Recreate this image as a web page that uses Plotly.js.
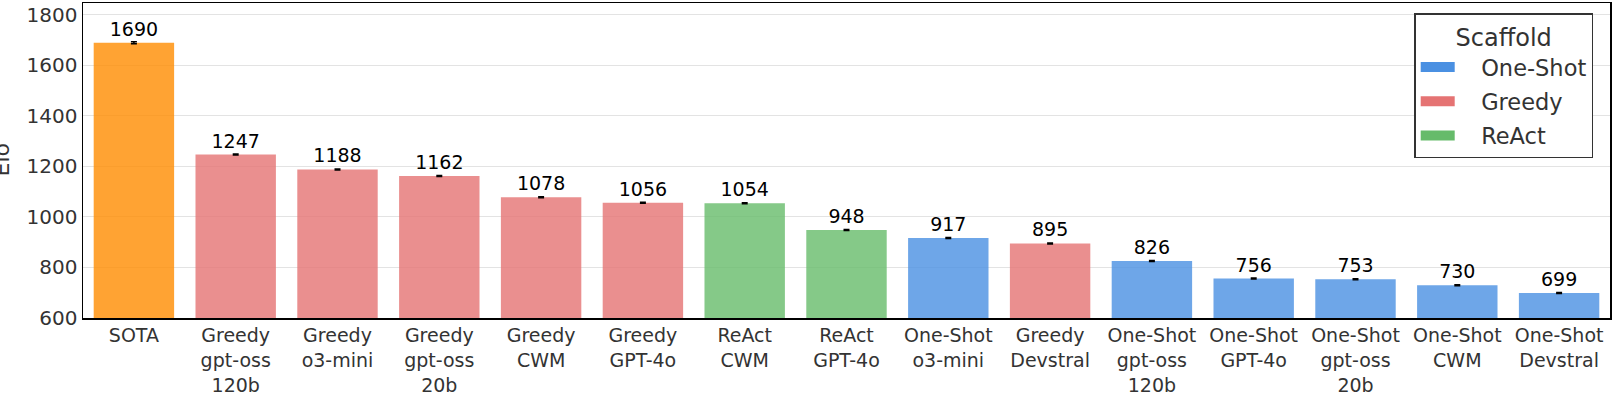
<!DOCTYPE html>
<html>
<head>
<meta charset="utf-8">
<script src="https://cdn.plot.ly/plotly-3.0.1.min.js"></script>
<style>html,body{margin:0;padding:0;background:#fff;}#chart{width:1613px;height:395px;}</style>
</head>
<body>
<div id="chart"></div>
<script>
const categories = ["SOTA","Greedy<br>gpt-oss<br>120b","Greedy<br>o3-mini","Greedy<br>gpt-oss<br>20b","Greedy<br>CWM","Greedy<br>GPT-4o","ReAct<br>CWM","ReAct<br>GPT-4o","One-Shot<br>o3-mini","Greedy<br>Devstral","One-Shot<br>gpt-oss<br>120b","One-Shot<br>GPT-4o","One-Shot<br>gpt-oss<br>20b","One-Shot<br>CWM","One-Shot<br>Devstral"];
const elo = [1690,1247,1188,1162,1078,1056,1054,948,917,895,826,756,753,730,699];
const eloErr = [4,2,2,2,2,2,2,2,2,2,2,2,2,2,2];
const scaffold = ["SOTA","Greedy","Greedy","Greedy","Greedy","Greedy","ReAct","ReAct","One-Shot","Greedy","One-Shot","One-Shot","One-Shot","One-Shot","One-Shot"];
const legendNames = ["One-Shot","Greedy","ReAct"];
const colorMap = {"SOTA":"#ff8c00","One-Shot":"#4a90e2","Greedy":"#e57373","ReAct":"#66bb6a"};

const font = "DejaVu Sans, sans-serif";
const traces = [{
  type:"bar",
  x: categories,
  y: elo,
  marker:{color: scaffold.map(s=>colorMap[s]), opacity:0.8, line:{width:0}},
  text: elo.map(String),
  textposition:"outside",
  textfont:{family:font,size:19,color:"#000"},
  cliponaxis:false,
  constraintext:"none",
  error_y:{type:"data",array:eloErr,visible:true,color:"#000",thickness:1.5,width:3},
  showlegend:false,
  hoverinfo:"x+y"
}];
legendNames.forEach(n=>{
  traces.push({type:"scatter",mode:"lines",x:[null],y:[null],name:"\u00a0\u00a0\u00a0"+n,legendgroup:n,
    line:{color:colorMap[n],width:16},showlegend:true});
});

const layout = {
  width:1613,height:395,
  margin:{l:83,r:3,t:3,b:77},
  paper_bgcolor:"#fff",plot_bgcolor:"#fff",
  barmode:"overlay",
  bargap:0.21,
  font:{family:font,size:20,color:"#333"},
  xaxis:{type:"category",showline:true,linecolor:"#000",linewidth:1.5,mirror:true,ticks:"",
    tickfont:{family:font,size:19,color:"#333"},showgrid:false,range:[-0.5,14.5]},
  yaxis:{range:[600,1847],tickvals:[600,800,1000,1200,1400,1600,1800],showline:true,linecolor:"#000",linewidth:1.5,mirror:true,
    ticks:"",gridcolor:"#e3e3e3",gridwidth:1,tickfont:{family:font,size:20,color:"#333"},zeroline:false},
  annotations:[{text:"Elo",xref:"paper",yref:"paper",x:-82/1527,y:0.5,xanchor:"center",yanchor:"middle",
    textangle:-90,showarrow:false,font:{family:font,size:22,color:"#333"}}],
  legend:{x:0.989,xanchor:"right",y:0.968,yanchor:"top",bgcolor:"#fff",bordercolor:"#333",borderwidth:1.5,
    title:{text:"Scaffold",side:"top center",font:{family:font,size:24,color:"#333"}},
    font:{family:font,size:22.5,color:"#333"},itemwidth:34,tracegroupgap:2}
};
Plotly.newPlot("chart",traces,layout,{displayModeBar:false,staticPlot:true});
</script>
</body>
</html>
